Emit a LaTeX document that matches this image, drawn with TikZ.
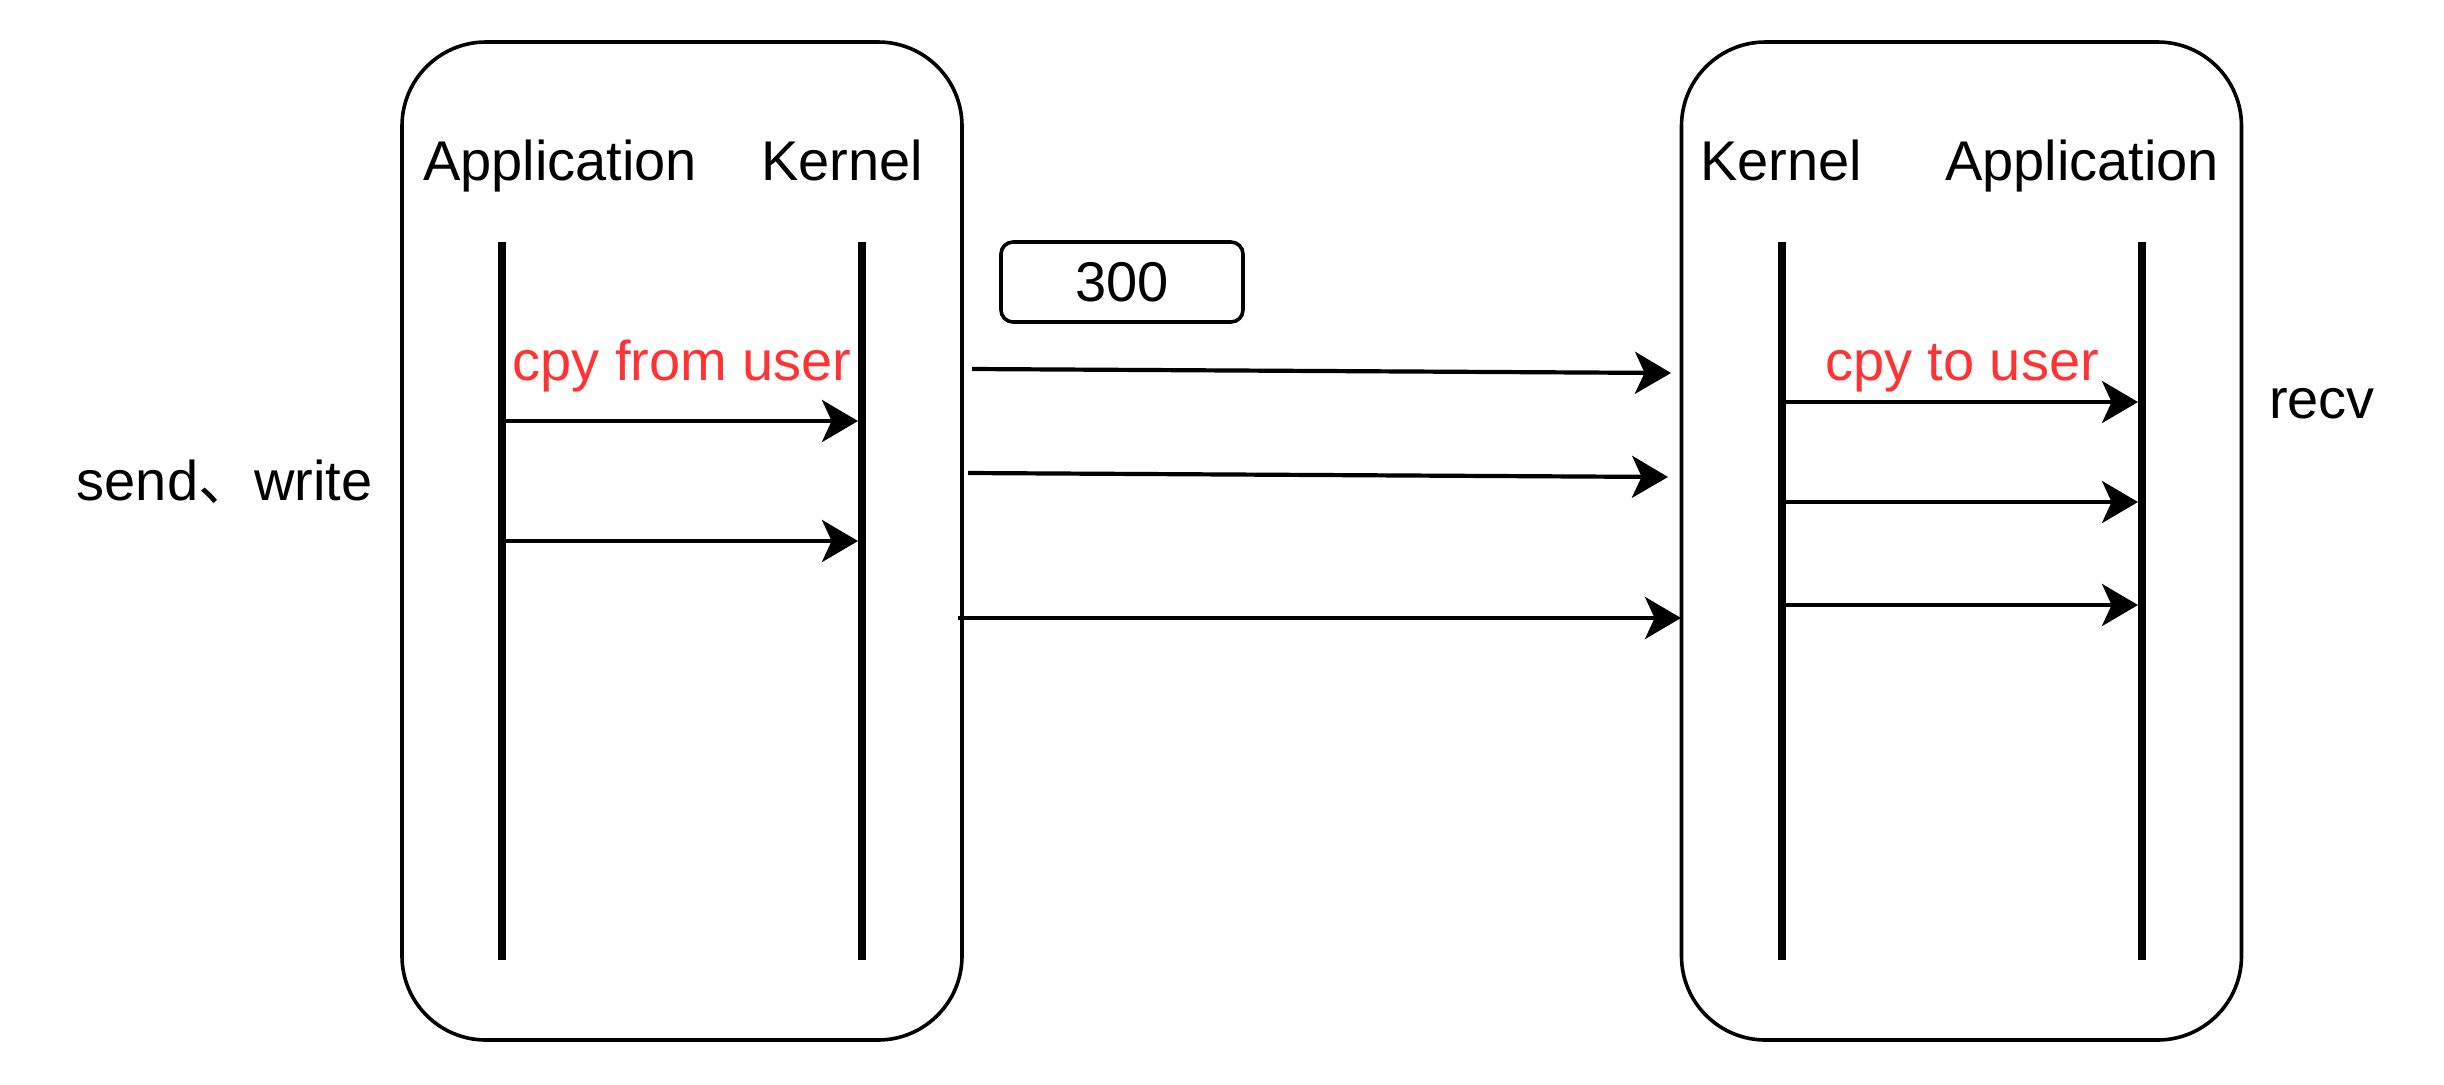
\documentclass[tikz,border=0pt]{standalone}
\usepackage{fontspec}
\setmainfont{Liberation Sans}
\newfontfamily\cjkfont{Noto Sans CJK SC}
\usetikzlibrary{arrows.meta}
\definecolor{redtxt}{RGB}{255,51,51}
\begin{document}
\begin{tikzpicture}[x=0.25pt,y=-0.25pt,
  container/.style={draw, line width=0.9pt, rounded corners=21pt, minimum width=140pt, minimum height=249.5pt, inner sep=0pt},
  lifeline/.style={line width=2pt},
  msg/.style={line width=1.05pt, -{Stealth[length=9pt,width=10.5pt,inset=2.4pt]}},
  lbl/.style={inner sep=0pt, anchor=base, font=\fontsize{14}{16}\selectfont},
  redlbl/.style={lbl, text=redtxt},
  valbox/.style={draw, line width=0.9pt, rounded corners=3pt, minimum width=60.5pt, minimum height=20pt, inner sep=0pt, font=\fontsize{14}{16}\selectfont}]
\useasboundingbox (0,0) rectangle (2444,1084);
% containers
\node[container] (leftbox) at (682,541) {};
\node[container] (rightbox) at (1961.5,541) {};
% headers
\node[lbl] (appL) at (560,180) {Application};
\node[lbl] (kerL) at (842,180) {Kernel};
\node[lbl] (kerR) at (1781,180) {Kernel};
\node[lbl] (appR) at (2082,180) {Application};
% side labels
\node[lbl, anchor=base west] (send) at (76,500) {send{\cjkfont 、}write};
\node[lbl] (recv) at (2322,418) {recv};
% lifelines
\coordinate (aLt) at (502,242); \coordinate (aLb) at (502,960);
\coordinate (kLt) at (862,242); \coordinate (kLb) at (862,960);
\coordinate (kRt) at (1782,242); \coordinate (kRb) at (1782,960);
\coordinate (aRt) at (2142,242); \coordinate (aRb) at (2142,960);
\draw[lifeline] (aLt) -- (aLb);
\draw[lifeline] (kLt) -- (kLb);
\draw[lifeline] (kRt) -- (kRb);
\draw[lifeline] (aRt) -- (aRb);
% left copies
\node[redlbl] (cfu) at (682,380) {cpy from user};
\coordinate (l1s) at (502,421); \coordinate (l1e) at (858,421);
\coordinate (l2s) at (502,541); \coordinate (l2e) at (858,541);
\draw[msg] (l1s) -- (l1e);
\draw[msg] (l2s) -- (l2e);
% right copies
\node[redlbl] (ctu) at (1962,380) {cpy to user};
\coordinate (r1s) at (1782,402); \coordinate (r1e) at (2138,402);
\coordinate (r2s) at (1782,502); \coordinate (r2e) at (2138,502);
\coordinate (r3s) at (1782,605); \coordinate (r3e) at (2138,605);
\draw[msg] (r1s) -- (r1e);
\draw[msg] (r2s) -- (r2e);
\draw[msg] (r3s) -- (r3e);
% value box
\node[valbox] (val) at (1122,282) {300};
% transfers
\coordinate (m1s) at (972,369); \coordinate (m1e) at (1671,373);
\coordinate (m2s) at (968,473); \coordinate (m2e) at (1668,477);
\coordinate (m3s) at (958,618); \coordinate (m3e) at (1681,618);
\draw[msg] (m1s) -- (m1e);
\draw[msg] (m2s) -- (m2e);
\draw[msg] (m3s) -- (m3e);
\end{tikzpicture}
\end{document}
